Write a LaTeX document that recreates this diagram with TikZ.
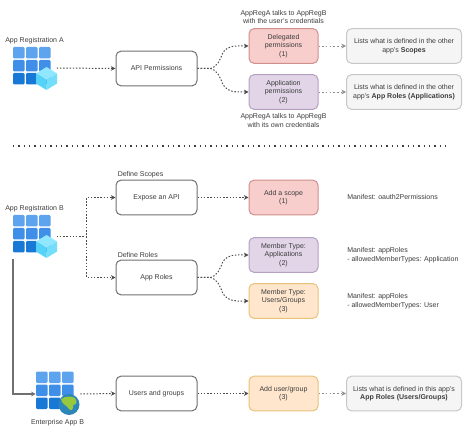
\documentclass[tikz,border=0pt]{standalone}
\usepackage{fontspec}
\setmainfont{Liberation Sans}
\usepackage{xcolor}
\usetikzlibrary{arrows.meta,positioning}
\definecolor{figText}{HTML}{3C3C3C}
\definecolor{figLine}{HTML}{707070}
\definecolor{figRed}{HTML}{F8CECC}
\definecolor{figRedDraw}{HTML}{CF8F8C}
\definecolor{figPurple}{HTML}{E1D5E7}
\definecolor{figPurpleDraw}{HTML}{B5A0C2}
\definecolor{figOrange}{HTML}{FFE6CC}
\definecolor{figOrangeDraw}{HTML}{E8C27A}
\definecolor{figTileTop}{HTML}{5DA3EE}
\definecolor{figTileMid}{HTML}{3F8FE8}
\definecolor{figTileLow}{HTML}{1878D6}
\definecolor{figCubeTop}{HTML}{8FE8FF}
\definecolor{figCubeLeft}{HTML}{55D2F7}
\definecolor{figCubeRight}{HTML}{74DDFA}
\definecolor{figOcean}{HTML}{2E86B8}
\definecolor{figLand}{HTML}{96C93D}

% app registration tiles, top left corner of the grid at #1,#2
\newcommand{\apptiles}[2]{
  \foreach \col in {0,1,2} {
    \foreach \row/\tint in {0/figTileTop,1/figTileMid,2/figTileLow} {
      \fill[\tint, rounded corners=0.8pt]
        ({#1+\col*13},{#2+\row*13}) rectangle ++(11.5,11.5);
    }
  }
}
% cube badge, top tip at #1,#2
\newcommand{\cubebadge}[2]{
  \fill[figCubeTop] (#1,#2) -- ++(10.5,6.5) -- ++(-10.5,6.5) -- ++(-10.5,-6.5) -- cycle;
  \fill[figCubeLeft] (#1-10.5,#2+6.5) -- ++(10.5,6.5) -- ++(0,10) -- ++(-10.5,-6.5) -- cycle;
  \fill[figCubeRight] (#1+10.5,#2+6.5) -- ++(-10.5,6.5) -- ++(0,10) -- ++(10.5,-6.5) -- cycle;
}

\begin{document}
\begin{tikzpicture}[
  x=0.75pt, y=-0.75pt,
  >={Stealth[length=3.5pt,width=3.5pt]},
  every node/.style={font=\fontsize{5.25}{6.4}\selectfont, text=figText, align=center, inner sep=0pt},
  stagebox/.style={rectangle, rounded corners=3.75pt, draw=figLine, fill=white,
    line width=0.75pt, minimum width=60.75pt, minimum height=26pt},
  permbox/.style={rectangle, rounded corners=3.75pt, draw=#1Draw, fill=#1,
    line width=0.75pt, minimum width=51.75pt, minimum height=26pt},
  notebox/.style={rectangle, rounded corners=3.75pt, draw=black!22, fill=black!4,
    line width=0.75pt, minimum width=86.25pt, minimum height=26pt},
  iconspot/.style={rectangle, minimum width=33pt, minimum height=33pt},
  plainlabel/.style={align=left, anchor=west},
  linkdark/.style={->, black!70, line width=0.75pt, dash pattern=on 1.1pt off 1.3pt},
  linklight/.style={->, figLine!80, line width=0.6pt, dash pattern=on 1.1pt off 1.7pt},
  linksolid/.style={->, figLine, line width=1pt},
]
\useasboundingbox (0,0) rectangle (474,434);

% ======= Upper part =======
\node[iconspot] (iconA) at (34.5,68) {};
\apptiles{13}{47}
\cubebadge{46.5}{67}
\node (titleA) at (34.5,41) {App Registration A};

\node[stagebox] (apiperm) at (156.5,68.5) {API Permissions};
\node[permbox=figRed] (delegated) at (283.5,46) {Delegated\\permissions\\(1)};
\node[permbox=figPurple] (application) at (283.5,92) {Application\\permissions\\(2)};
\node[notebox] (notescopes) at (404,46) {Lists what is defined in the other\\app's \textbf{Scopes}};
\node[notebox] (noteapp) at (404,92) {Lists what is defined in the other\\app's \textbf{App Roles (Applications)}};
\node (talkuser) at (283.5,17) {AppRegA talks to AppRegB\\with the user's credentials};
\node (talkown) at (283.5,120.5) {AppRegA talks to AppRegB\\with its own credentials};

\draw[linkdark] (iconA.east) -- (apiperm.west);
\draw[linkdark] (apiperm.east) -- ++(13,0) .. controls ++(6,-1) and ++(-2,6) .. ++(12,-15)
  .. controls ++(2,-5) and ++(-7,0) .. ++(15,-7.5) -- (delegated.west);
\draw[linkdark] (apiperm.east) -- ++(13,0) .. controls ++(6,1) and ++(-2,-6) .. ++(12,15)
  .. controls ++(2,5) and ++(-7,0) .. ++(15,8.5) -- (application.west);
\draw[linklight] (delegated.east) -- (notescopes.west);
\draw[linklight] (application.east) -- (noteapp.west);

% Divider
\coordinate (sepleft) at (13,146);
\coordinate (sepright) at (447,146);
\draw[figText, line width=0.8pt, dash pattern=on 0.9pt off 3.1pt] (sepleft) -- (sepright);

% ======= App Registration B =======
\node[iconspot] (iconB) at (34.5,236.5) {};
\apptiles{13}{215}
\cubebadge{46.5}{235}
\node (titleB) at (34.5,209) {App Registration B};

\node[stagebox] (expose) at (156.5,197.5) {Expose an API};
\node[stagebox] (approles) at (156.5,277.5) {App Roles};
\node[plainlabel] (definescopes) at (117.5,175) {Define Scopes};
\node[plainlabel] (defineroles) at (117.5,255) {Define Roles};
\node[permbox=figRed] (addscope) at (283.5,197.5) {Add a scope\\(1)};
\node[permbox=figPurple] (memberapp) at (283.5,255) {Member Type:\\Applications\\(2)};
\node[permbox=figOrange] (memberuser) at (283.5,301) {Member Type:\\Users/Groups\\(3)};
\node[plainlabel] (manifestscope) at (347,197) {Manifest: oauth2Permissions};
\node[plainlabel] (manifestapp) at (347,255) {Manifest: appRoles\\- allowedMemberTypes: Application};
\node[plainlabel] (manifestuser) at (347,301) {Manifest: appRoles\\- allowedMemberTypes: User};

\coordinate (splitB) at (86.5,237);
\draw[linkdark] (iconB.east |- splitB) -- (splitB) |- (expose.west);
\draw[linkdark] (splitB) |- (approles.west);
\draw[linkdark] (expose.east) -- (addscope.west);
\draw[linkdark] (approles.east) -- ++(13,0) .. controls ++(6,-1) and ++(-2,6) .. ++(12,-15)
  .. controls ++(2,-5) and ++(-7,0) .. ++(15,-7.5) -- (memberapp.west);
\draw[linkdark] (approles.east) -- ++(13,0) .. controls ++(6,1) and ++(-2,-6) .. ++(12,15)
  .. controls ++(2,5) and ++(-7,0) .. ++(15,8.5) -- (memberuser.west);

% ======= Enterprise App B =======
\node[iconspot] (iconE) at (58,394) {};
\apptiles{36}{371.5}
\fill[figOcean] (69,404.5) circle[radius=10.5];
\fill[figLand] (61,399) .. controls (65,396) and (72,396) .. (75,398)
  .. controls (78,402) and (76,405) .. (73,405) .. controls (74,409) and (71,412) .. (69,409)
  .. controls (67,405) and (62,405) .. cycle;
\node (titleE) at (57.5,423) {Enterprise App B};

\node[stagebox] (usersgroups) at (156.5,393.5) {Users and groups};
\node[permbox=figOrange] (adduser) at (283.5,393.5) {Add user/group\\(3)};
\node[notebox] (noteuser) at (404,393.5) {Lists what is defined in this app's\\\textbf{App Roles (Users/Groups)}};

\draw[linksolid] (13,259) |- (iconE.west);
\draw[linkdark] (iconE.east) -- (usersgroups.west);
\draw[linkdark] (usersgroups.east) -- (adduser.west);
\draw[linklight] (adduser.east) -- (noteuser.west);

\end{tikzpicture}
\end{document}
